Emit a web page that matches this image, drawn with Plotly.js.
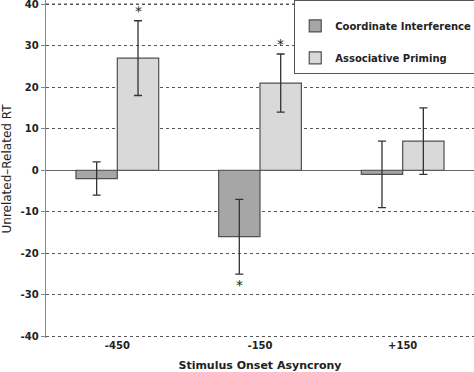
<!DOCTYPE html>
<html><head><meta charset="utf-8">
<script src="https://cdn.plot.ly/plotly-3.0.1.min.js"></script>
<style>html,body{margin:0;padding:0;background:#fff}#chart{width:474px;height:372px}</style>
</head><body><div id="chart"></div>
<script>
const categories = ["-450", "-150", "+150"];
const coordinateValues = [-2, -16, -1];
const coordinateErrors = [4, 9, 8];
const associativeValues = [27, 21, 7];
const associativeErrors = [9, 7, 8];
const yTicks = [-40, -30, -20, -10, 0, 10, 20, 30, 40];
const starCategoryIndex = [0, 1, 1];
const starValues = [38.3, 30.5, -27.6];
const starSide = [1, 1, -1];

const font = {family: "DejaVu Sans, Verdana, sans-serif", size: 10, color: "#222"};
const traces = [
  {type: "bar", name: "Coordinate Interference", x: categories, y: coordinateValues,
   legendgroup: "a",
   marker: {color: "#a6a6a6", line: {color: "#505050", width: 1.2}},
   error_y: {type: "data", array: coordinateErrors, visible: true, color: "#333", thickness: 1.3, width: 4}},
  {type: "bar", name: "Associative Priming", x: categories, y: associativeValues,
   legendgroup: "b",
   marker: {color: "#d9d9d9", line: {color: "#505050", width: 1.2}},
   error_y: {type: "data", array: associativeErrors, visible: true, color: "#333", thickness: 1.3, width: 4}}
];
const annotations = starCategoryIndex.map((c, i) => ({
  x: c + starSide[i] * 0.145, y: starValues[i], xref: "x", yref: "y", text: "*", showarrow: false,
  font: {family: font.family, size: 14, color: "#222"}
}));
const topGrid = {type: "line", xref: "paper", yref: "y", x0: 0, x1: 1, y0: yTicks[yTicks.length - 1], y1: yTicks[yTicks.length - 1],
  layer: "above", line: {color: "#555", width: 1.3, dash: "dot"}};
const layout = {
  width: 474, height: 372,
  margin: {l: 46, r: 0, t: 0, b: 34, autoexpand: false},
  paper_bgcolor: "#fff", plot_bgcolor: "#fff",
  font: font,
  barmode: "group", bargap: 0.42, bargroupgap: 0,
  showlegend: true,
  legend: {x: 0.58, y: 1.0, xanchor: "left", yanchor: "top",
    bgcolor: "#fff", bordercolor: "#555", borderwidth: 1,
    traceorder: "grouped", tracegroupgap: 13, itemwidth: 30,
    title: {text: " ", font: {size: 8}},
    font: {family: font.family, size: 10, color: "#222", weight: "bold"}},
  xaxis: {type: "category", range: [-0.5, 2.5], showline: false, showgrid: false, ticks: "",
    tickfont: {family: font.family, size: 10, weight: "bold", color: "#222"},
    title: {text: "Stimulus Onset Asyncrony", standoff: 12,
      font: {family: font.family, size: 11, weight: "bold", color: "#222"}}},
  yaxis: {range: [-40.4, 41.0], tickvals: yTicks, ticktext: yTicks.map(String),
    ticklabeloverflow: "allow",
    showgrid: true, gridcolor: "#555", griddash: "dot", gridwidth: 1.3,
    zeroline: true, zerolinecolor: "#666", zerolinewidth: 1.3,
    showline: true, linecolor: "#888", linewidth: 1.3,
    ticks: "outside", ticklen: 4, tickcolor: "#888",
    tickfont: {family: font.family, size: 10, weight: "bold", color: "#222"},
    title: {text: "Unrelated\u2013Related RT", standoff: 8,
      font: {family: font.family, size: 12, color: "#222"}}},
  shapes: [topGrid],
  annotations: annotations
};
Plotly.newPlot("chart", traces, layout, {displayModeBar: false, staticPlot: true});
</script></body></html>
